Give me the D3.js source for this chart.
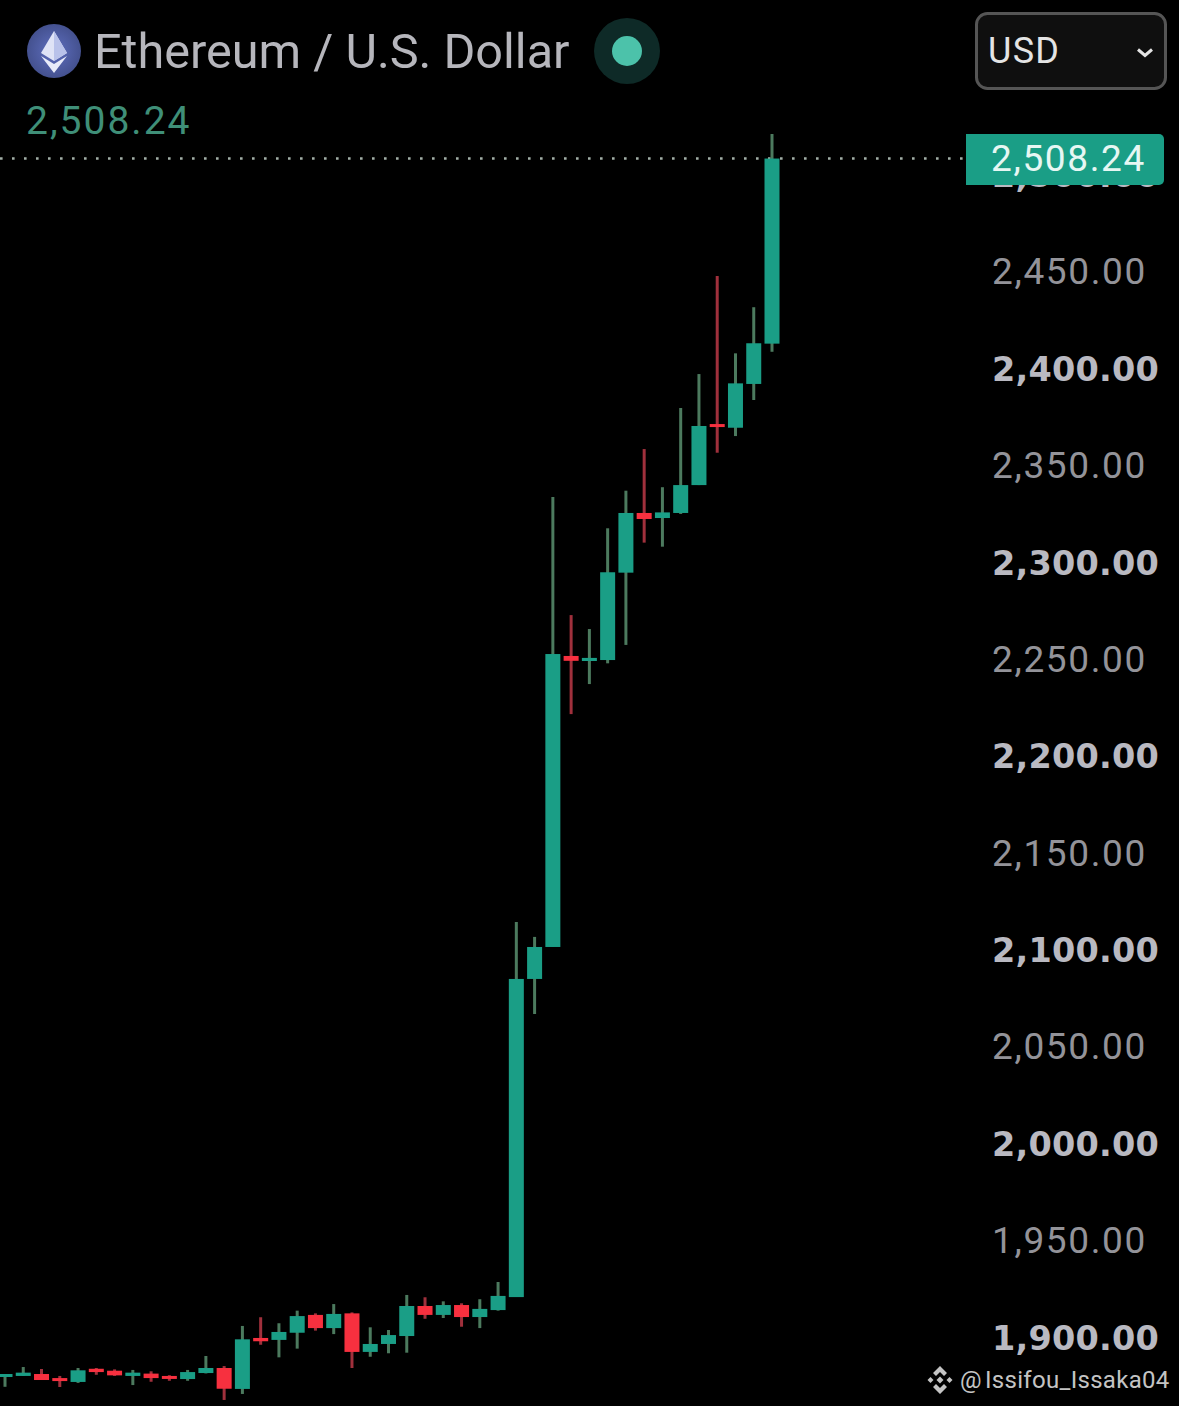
<!DOCTYPE html>
<html>
<head>
<meta charset="utf-8">
<script src="https://cdn.jsdelivr.net/npm/d3@7"></script>
<style>
    html, body { margin: 0; padding: 0; background: #000; overflow: hidden; }
    svg { display: block; }
    text { font-family: "Roboto", sans-serif; }
</style>
</head>
<body>
<div id="chart"></div>
<script>
"use strict";

var opens = [1879.5, 1879.9, 1880.9, 1878.8, 1876.8, 1883.6, 1882.6, 1879.9, 1881.1, 1879.9, 1878.3, 1881.4, 1884, 1873.2, 1899.5,
    1898.5, 1902.2, 1911.4, 1904.6, 1912.2, 1892.3, 1896.4, 1900.5, 1916, 1911.4, 1916.5, 1910.3, 1913.9, 1920.6, 2084.8,
    2101.3, 2251.5, 2248.9, 2249.4, 2294.5, 2325.3, 2322.7, 2325.3, 2339.7, 2371.2, 2369.3, 2391.9, 2412.7];
var highs = [1880.9, 1884.5, 1883.5, 1879.9, 1884, 1884, 1883.3, 1883, 1882.3, 1880.3, 1883, 1890.2, 1885, 1905.7, 1910.2,
    1907.1, 1913.6, 1912.2, 1917, 1912.7, 1905, 1903.6, 1921.7, 1920.5, 1918.4, 1917.4, 1919.5, 1928.4, 2114.2, 2106.5,
    2333.5, 2272.6, 2265.4, 2317.4, 2336.8, 2358.3, 2338.6, 2379.5, 2397, 2447.6, 2407.7, 2431.5, 2520.9];
var lows = [1874.3, 1879.9, 1877.8, 1874.2, 1876.3, 1880.5, 1879.9, 1875.2, 1876.9, 1877.4, 1877.4, 1881.2, 1867.5, 1870.6, 1896,
    1889.5, 1894, 1903.3, 1901.5, 1884, 1889.8, 1891.6, 1891.9, 1909.4, 1909.8, 1905.3, 1904.6, 1913.6, 1920.6, 2066.7,
    2101.3, 2221.5, 2237, 2247.7, 2257.2, 2310, 2307.9, 2324.8, 2339.7, 2356.4, 2365, 2383.6, 2408.5];
var closes = [1880.9, 1881.6, 1877.8, 1877.3, 1882.8, 1881.9, 1880.2, 1881.6, 1878.8, 1878.5, 1881.9, 1884, 1873.3, 1898.8, 1897.8,
    1902.6, 1910.8, 1904.6, 1911.9, 1892.3, 1896.4, 1901, 1916, 1911.4, 1916.5, 1910.3, 1914.5, 1921.2, 2084.8, 2101.3,
    2252.5, 2249, 2250.5, 2294.7, 2325.3, 2322.2, 2325.6, 2339.7, 2370.2, 2369.7, 2392.2, 2412.9, 2508.24];
var priceTicks = [1900, 1950, 2000, 2050, 2100, 2150, 2200, 2250, 2300, 2350, 2400, 2450, 2500];
var lastPrice = 2508.24;

var width = 1179, height = 1406;
var upColor = "#1a9e86", downColor = "#f7303f";
var upWick = "#4c7a5e", downWick = "#a0303c";

var svg = d3.select("#chart").append("svg")
    .attr("width", width)
    .attr("height", height);

var x = d3.scaleLinear().domain([0, opens.length - 1]).range([5, 772]);
var y = d3.scaleLinear().domain([1900, 2500]).range([1337, 174.5]);
var priceFormat = d3.format(",.2f");

// price axis sits under the last price tag, same as the real widget
var axis = d3.axisRight(y)
    .tickValues(priceTicks)
    .tickSize(0)
    .tickPadding(0)
    .tickFormat(priceFormat);

var axisLayer = svg.append("g")
    .attr("transform", "translate(992,0)")
    .call(axis);
axisLayer.select(".domain").remove();
axisLayer.selectAll("text")
    .attr("dy", d => d % 100 === 0 ? "0.36em" : "0.335em")
    .style("font-family", d => d % 100 === 0 ? "'DejaVu Sans'" : "Roboto")
    .style("font-weight", d => d % 100 === 0 ? 700 : 400)
    .style("font-size", d => d % 100 === 0 ? "33.5px" : "37px")
    .style("letter-spacing", d => d % 100 === 0 ? "0.2px" : "1.65px")
    .style("fill", d => d % 100 === 0 ? "#b9b9c1" : "#939399");

// dotted line at last price
svg.append("line")
    .attr("x1", 0).attr("x2", 966)
    .attr("y1", y(lastPrice)).attr("y2", y(lastPrice))
    .attr("stroke", "#a3b0a8")
    .attr("stroke-width", 2.6)
    .attr("stroke-dasharray", "2.6 9.4");

var candles = svg.append("g").selectAll("g")
    .data(d3.range(opens.length))
    .enter().append("g");

function isUp(i) { return closes[i] >= opens[i]; }

candles.append("line")
    .attr("x1", i => x(i)).attr("x2", i => x(i))
    .attr("y1", i => y(highs[i])).attr("y2", i => y(lows[i]))
    .attr("stroke", i => isUp(i) ? upWick : downWick)
    .attr("stroke-width", 3);

candles.append("rect")
    .attr("x", i => x(i) - 7.5)
    .attr("width", 15)
    .attr("y", i => y(Math.max(opens[i], closes[i])))
    .attr("height", i => Math.max(3, Math.abs(y(opens[i]) - y(closes[i]))))
    .attr("fill", i => isUp(i) ? upColor : downColor);

// last price tag
svg.append("path")
    .attr("d", "M966,134H1159a5,5 0 0 1 5,5V180a5,5 0 0 1 -5,5H966Z")
    .attr("fill", upColor);
svg.append("text")
    .attr("x", 991).attr("y", 157.5)
    .attr("dy", "0.36em")
    .style("font-size", "37px")
    .style("letter-spacing", "1.65px")
    .style("fill", "#e6f7f3")
    .text(priceFormat(lastPrice));

// header
var iconGrad = svg.append("defs").append("radialGradient").attr("id", "ethBg");
iconGrad.append("stop").attr("offset", "0%").attr("stop-color", "#5f6fc0");
iconGrad.append("stop").attr("offset", "100%").attr("stop-color", "#44518f");
svg.append("circle").attr("cx", 54).attr("cy", 51).attr("r", 27).attr("fill", "url(#ethBg)");
svg.append("path").attr("d", "M54,31L41,53L54,61L67,53Z").attr("fill", "#dfe3f6");
svg.append("path").attr("d", "M54,31L54,61L67,53Z").attr("fill", "#b9c2ea");
svg.append("path").attr("d", "M41,56L54,73L67,56L54,64Z").attr("fill", "#e8ebf9");

svg.append("text")
    .attr("x", 94).attr("y", 68)
    .style("font-size", "48.6px")
    .style("fill", "#b6b6bc")
    .text("Ethereum / U.S. Dollar");

svg.append("circle").attr("cx", 627).attr("cy", 51).attr("r", 33).attr("fill", "#0e2a27");
svg.append("circle").attr("cx", 627).attr("cy", 51).attr("r", 15).attr("fill", "#4cc2aa");

svg.append("text")
    .attr("x", 26).attr("y", 134)
    .style("font-size", "39px")
    .style("letter-spacing", "2px")
    .style("fill", "#3f8f78")
    .text(priceFormat(lastPrice));

// currency select
svg.append("rect")
    .attr("x", 976.5).attr("y", 13.5)
    .attr("width", 189).attr("height", 75)
    .attr("rx", 11)
    .attr("fill", "#0f0f0f")
    .attr("stroke", "#555555")
    .attr("stroke-width", 3);
svg.append("text")
    .attr("x", 988).attr("y", 63)
    .style("font-size", "36px")
    .style("letter-spacing", "1.3px")
    .style("fill", "#e4e4e4")
    .text("USD");
svg.append("path")
    .attr("d", "M1138,49.5L1145,55.5L1152,49.5")
    .attr("fill", "none")
    .attr("stroke", "#e4e4e4")
    .attr("stroke-width", 3);

// watermark
var mark = svg.append("g").attr("transform", "translate(940,1380)").attr("fill", "#c4c4c4");
mark.append("path").attr("d", "M0,-14L7,-7L4,-4L0,-8L-4,-4L-7,-7Z");
mark.append("path").attr("d", "M0,14L7,7L4,4L0,8L-4,4L-7,7Z");
mark.append("path").attr("d", "M0,-3.5L3.5,0L0,3.5L-3.5,0Z");
mark.append("path").attr("d", "M-9.5,-3L-6.5,0L-9.5,3L-12.5,0Z");
mark.append("path").attr("d", "M9.5,-3L12.5,0L9.5,3L6.5,0Z");
svg.append("text")
    .attr("x", 960).attr("y", 1388)
    .style("font-size", "24px")
    .style("fill", "#c4c4c4")
    .text("@");
svg.append("text")
    .attr("x", 985).attr("y", 1388)
    .style("font-size", "24px")
    .style("letter-spacing", "0.3px")
    .style("fill", "#c4c4c4")
    .text("Issifou_Issaka04");
</script>
</body>
</html>
